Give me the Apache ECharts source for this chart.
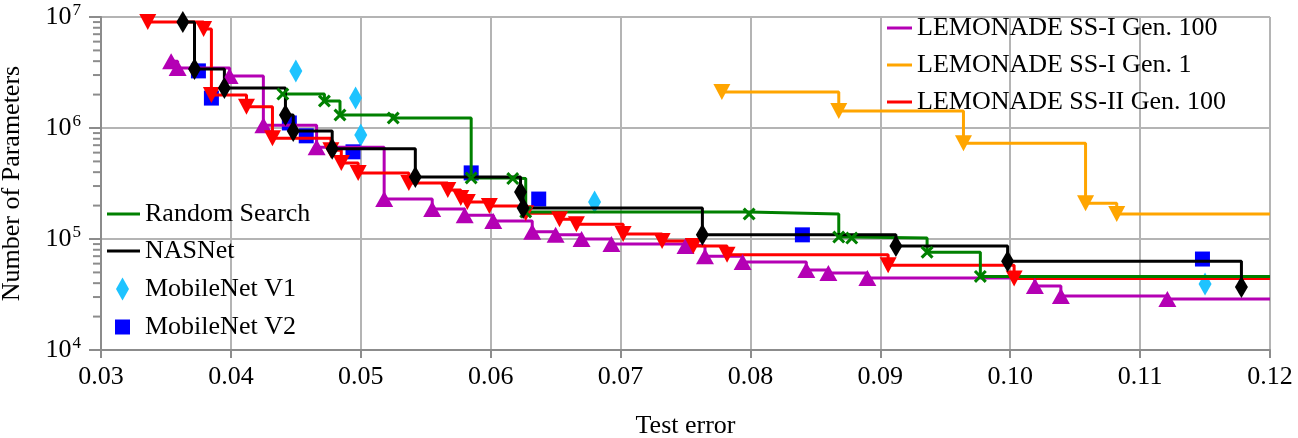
<!DOCTYPE html>
<html>
<head>
<meta charset="utf-8">
<title>Test error vs parameters</title>
<script src="https://cdn.jsdelivr.net/npm/echarts@6.0.0/dist/echarts.min.js"></script>
<style>
html, body { margin: 0; padding: 0; background: #fff; }
#main { width: 1298px; height: 438px; }
</style>
</head>
<body>
<div id="main"></div>
<script>
// LEMONADE SS-I Gen. 100
var purpleX = [0.0354, 0.0359, 0.0399, 0.0425, 0.0466, 0.0518, 0.0555, 0.0580, 0.0602, 0.0632, 0.0650, 0.0670, 0.0693, 0.0750, 0.0765, 0.0794, 0.0843, 0.0860, 0.0890, 0.1019, 0.1039, 0.1121];
var purpleY = [4.0e6, 3.47e6, 2.94e6, 1.06e6, 6.7e5, 2.29e5, 1.86e5, 1.64e5, 1.45e5, 1.16e5, 1.09e5, 1.0e5, 9.0e4, 8.65e4, 7.0e4, 6.2e4, 5.26e4, 4.94e4, 4.46e4, 3.77e4, 3.06e4, 2.88e4];
// LEMONADE SS-I Gen. 1
var orangeX = [0.0778, 0.0868, 0.0964, 0.1058, 0.1082];
var orangeY = [2.11e6, 1.42e6, 7.3e5, 2.1e5, 1.68e5];
// LEMONADE SS-II Gen. 100
var redX = [0.0336, 0.0379, 0.0385, 0.0412, 0.0432, 0.0477, 0.0485, 0.0498, 0.0537, 0.0567, 0.0577, 0.0582, 0.0599, 0.0627, 0.0653, 0.0666, 0.0702, 0.0732, 0.0756, 0.0782, 0.0906, 0.1003];
var redY = [9.0e6, 7.8e6, 1.98e6, 1.55e6, 8.1e5, 6.3e5, 4.84e5, 3.94e5, 3.2e5, 2.76e5, 2.34e5, 2.15e5, 1.98e5, 1.71e5, 1.51e5, 1.36e5, 1.11e5, 9.6e4, 8.65e4, 7.2e4, 5.8e4, 4.4e4];
// Random Search
var greenX = [0.0440, 0.0472, 0.0484, 0.0525, 0.0585, 0.0617, 0.0627, 0.0799, 0.0868, 0.0878, 0.0936, 0.0977];
var greenY = [2.02e6, 1.75e6, 1.31e6, 1.23e6, 3.55e5, 3.5e5, 1.75e5, 1.68e5, 1.04e5, 1.02e5, 7.6e4, 4.6e4];
// NASNet
var blackX = [0.0363, 0.0372, 0.0395, 0.0442, 0.0448, 0.0478, 0.0542, 0.0623, 0.0625, 0.0763, 0.0912, 0.0998, 0.1178];
var blackY = [9.0e6, 3.4e6, 2.29e6, 1.31e6, 9.4e5, 6.5e5, 3.62e5, 2.65e5, 1.9e5, 1.09e5, 8.65e4, 6.3e4, 3.7e4];
// MobileNet V1
var cyanX = [0.0450, 0.0496, 0.0500, 0.0680, 0.1150];
var cyanY = [3.27e6, 1.86e6, 8.65e5, 2.15e5, 3.94e4];
// MobileNet V2
var blueX = [0.0375, 0.0385, 0.0445, 0.0458, 0.0494, 0.0585, 0.0637, 0.0840, 0.1148];
var blueY = [3.27e6, 1.86e6, 1.11e6, 8.5e5, 6.1e5, 3.94e5, 2.29e5, 1.09e5, 6.6e4];

// fronts that run on to the right edge of the plot
var tailX = 0.12;
var xMin = 0.03;
var yMinorTicks = [2e4, 3e4, 4e4, 5e4, 6e4, 7e4, 8e4, 9e4, 2e5, 3e5, 4e5, 5e5, 6e5, 7e5, 8e5, 9e5, 2e6, 3e6, 4e6, 5e6, 6e6, 7e6, 8e6, 9e6];

var font = 'Liberation Serif';
var gridGray = '#b4b4b4';
var axisGray = '#8c8c8c';
var crossPath = 'path://M0,2L2,0L6,4L10,0L12,2L8,6L12,10L10,12L6,8L2,12L0,10L4,6Z';

function pts(xs, ys, tail) {
    var d = [];
    for (var i = 0; i < xs.length; i++) {
        d.push([xs[i], ys[i]]);
    }
    if (tail) {
        d.push({ value: [tail, ys[ys.length - 1]], symbol: 'none' });
    }
    return d;
}

function stepLine(name, color, data, symbol, size, rotate) {
    return {
        name: name,
        type: 'line',
        step: 'end',
        data: data,
        symbol: symbol,
        symbolSize: size,
        symbolRotate: rotate || 0,
        showAllSymbol: true,
        lineStyle: { color: color, width: 3 },
        itemStyle: { color: color },
        emphasis: { disabled: true }
    };
}

var legendText = { fontFamily: font, fontSize: 26, color: '#000' };

var option = {
    animation: false,
    grid: { left: 101, right: 28, top: 17, bottom: 88, outerBoundsMode: 'none' },
    legend: [
        {
            orient: 'vertical', left: 887, top: 15, padding: 0, itemGap: 11,
            itemWidth: 25, itemHeight: 3, icon: 'rect',
            textStyle: legendText,
            data: ['LEMONADE SS-I Gen. 100', 'LEMONADE SS-I Gen. 1', 'LEMONADE SS-II Gen. 100']
        },
        {
            orient: 'vertical', left: 107, top: 201, padding: 0, itemGap: 11,
            itemWidth: 33, itemHeight: 3, icon: 'rect',
            textStyle: legendText,
            data: ['Random Search', 'NASNet']
        },
        {
            left: 116, top: 276, padding: 0, itemWidth: 13, itemHeight: 23, icon: 'diamond',
            textStyle: { fontFamily: font, fontSize: 26, color: '#000', padding: [0, 0, 0, 11] },
            data: ['MobileNet V1']
        },
        {
            left: 115, top: 314, padding: 0, itemWidth: 15, itemHeight: 15, icon: 'rect',
            textStyle: { fontFamily: font, fontSize: 26, color: '#000', padding: [0, 0, 0, 10] },
            data: ['MobileNet V2']
        }
    ],
    xAxis: {
        type: 'value',
        min: xMin, max: 0.12, interval: 0.01,
        name: 'Test error', nameLocation: 'middle', nameGap: 63,
        nameTextStyle: { fontFamily: font, fontSize: 26, color: '#000' },
        axisLine: { show: true, lineStyle: { color: axisGray, width: 2 } },
        axisTick: { show: true, length: 8, lineStyle: { color: axisGray, width: 2 } },
        axisLabel: {
            margin: 14, fontFamily: font, fontSize: 26, color: '#000',
            formatter: function (v) { return v.toFixed(2); }
        },
        splitLine: { show: true, lineStyle: { color: gridGray, width: 2 } }
    },
    yAxis: {
        type: 'log', logBase: 10, min: 1e4, max: 1e7,
        name: 'Number of Parameters', nameLocation: 'middle', nameGap: 76,
        nameTextStyle: { fontFamily: font, fontSize: 26, color: '#000' },
        axisLine: { show: true, lineStyle: { color: axisGray, width: 2 } },
        axisTick: { show: true, length: 12, lineStyle: { color: axisGray, width: 2 } },
        axisLabel: {
            margin: 20,
            formatter: function (v) {
                return '{b|10}{s|' + Math.round(Math.log10(v)) + '}';
            },
            rich: {
                b: { fontFamily: font, fontSize: 26, color: '#000' },
                s: { fontFamily: font, fontSize: 17, color: '#000', padding: [0, 0, 12, 1] }
            }
        },
        splitLine: { show: true, lineStyle: { color: gridGray, width: 2 } }
    },
    series: [
        {
            // minor ticks of the log axis (2..9 per decade)
            type: 'custom', silent: true, clip: false, z: 5,
            data: yMinorTicks.map(function (v) { return [xMin, v]; }),
            renderItem: function (params, api) {
                var p = api.coord([api.value(0), api.value(1)]);
                return {
                    type: 'line',
                    shape: { x1: p[0] - 8, y1: p[1], x2: p[0], y2: p[1] },
                    style: { stroke: axisGray, lineWidth: 2 }
                };
            }
        },
        stepLine('LEMONADE SS-I Gen. 100', '#b400b4', pts(purpleX, purpleY, tailX), 'triangle', [18, 16]),
        stepLine('LEMONADE SS-II Gen. 100', '#ff0000', pts(redX, redY, tailX), 'triangle', [17, 16], 180),
        stepLine('LEMONADE SS-I Gen. 1', '#ffa500', pts(orangeX, orangeY, tailX), 'triangle', [17, 16], 180),
        stepLine('Random Search', '#008000', pts(greenX, greenY, tailX), crossPath, 13),
        stepLine('NASNet', '#000000', pts(blackX, blackY), 'diamond', [13, 22]),
        {
            name: 'MobileNet V1', type: 'scatter',
            data: pts(cyanX, cyanY),
            symbol: 'diamond', symbolSize: [13, 23],
            itemStyle: { color: '#1ec3ff', opacity: 1 },
            emphasis: { disabled: true }
        },
        {
            name: 'MobileNet V2', type: 'scatter',
            data: pts(blueX, blueY),
            symbol: 'rect', symbolSize: 15,
            itemStyle: { color: '#0000ff', opacity: 1 },
            emphasis: { disabled: true }
        }
    ]
};

var chart = echarts.init(document.getElementById('main'));
chart.setOption(option);
</script>
</body>
</html>
